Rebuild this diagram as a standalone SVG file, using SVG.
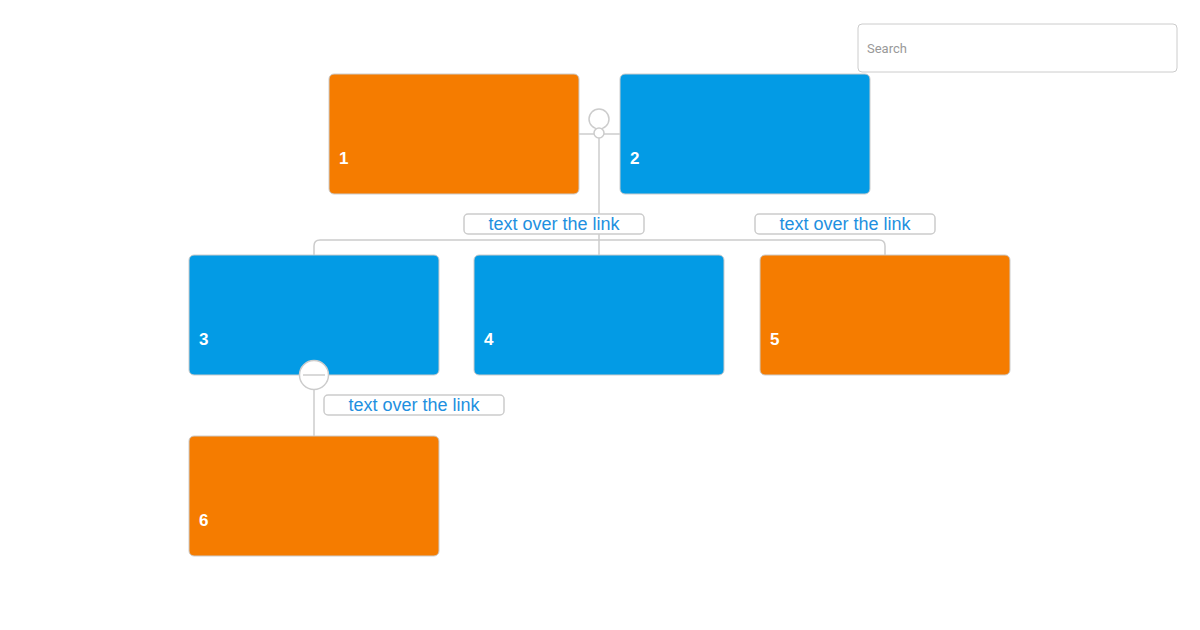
<svg xmlns="http://www.w3.org/2000/svg" width="1200" height="630" viewBox="0 0 1200 630">
<style>
.node rect{stroke:#cccccc;stroke-width:1}
.orange{fill:#F57C00}
.blue{fill:#039BE5}
.num{font-family:"Liberation Sans",Arial,sans-serif;font-weight:bold;font-size:17px;fill:#ffffff}
.link{fill:none;stroke:#cccccc;stroke-width:1.5}
.lbl rect{fill:#ffffff;stroke:#cccccc;stroke-width:1.5}
.lbl text{font-family:"Liberation Sans",Arial,sans-serif;font-size:18px;fill:#1E90E0;text-anchor:middle}
.btn{fill:#ffffff;stroke:#cccccc;stroke-width:1.5}
</style>
<rect width="1200" height="630" fill="#ffffff"/>
<g id="connectors">
<path class="link" d="M579 134H620"/>
<path class="link" d="M599 138V255"/>
<path class="link" d="M599 240H320Q314 240 314 246V255"/>
<path class="link" d="M599 240H879Q885 240 885 246V255"/>
<path class="link" d="M314 390V436"/>
<circle class="btn" cx="599" cy="119" r="10"/>
<circle class="btn" cx="599" cy="133" r="5"/>
<g class="lbl"><rect x="464" y="214" width="180" height="20" rx="4"/><text x="554" y="230">text over the link</text></g>
<g class="lbl"><rect x="755" y="214" width="180" height="20" rx="4"/><text x="845" y="230">text over the link</text></g>
<g class="lbl"><rect x="324" y="395" width="180" height="20" rx="4"/><text x="414" y="411">text over the link</text></g>
</g>
<g id="node1" class="node"><rect class="orange" x="329" y="74" width="250" height="120" rx="5"/><text class="num" x="339" y="164">1</text></g>
<g id="node2" class="node"><rect class="blue" x="620" y="74" width="250" height="120" rx="5"/><text class="num" x="630" y="164">2</text></g>
<g id="node3" class="node"><rect class="blue" x="189" y="255" width="250" height="120" rx="5"/><text class="num" x="199" y="345">3</text></g>
<g id="node4" class="node"><rect class="blue" x="474" y="255" width="250" height="120" rx="5"/><text class="num" x="484" y="345">4</text></g>
<g id="node5" class="node"><rect class="orange" x="760" y="255" width="250" height="120" rx="5"/><text class="num" x="770" y="345">5</text></g>
<g id="node6" class="node"><rect class="orange" x="189" y="436" width="250" height="120" rx="5"/><text class="num" x="199" y="526">6</text></g>
<g id="collapse">
<circle class="btn" cx="314" cy="375" r="14.5"/>
<path d="M303 375H325" stroke="#cccccc" stroke-width="1.5"/>
</g>
<g id="search">
<rect x="858" y="24" width="319" height="48" rx="4" fill="#ffffff" stroke="#cccccc" stroke-width="1"/>
<text x="867" y="53" font-family="Roboto,'Liberation Sans',sans-serif" font-size="13" fill="#999999">Search</text>
</g>
</svg>
